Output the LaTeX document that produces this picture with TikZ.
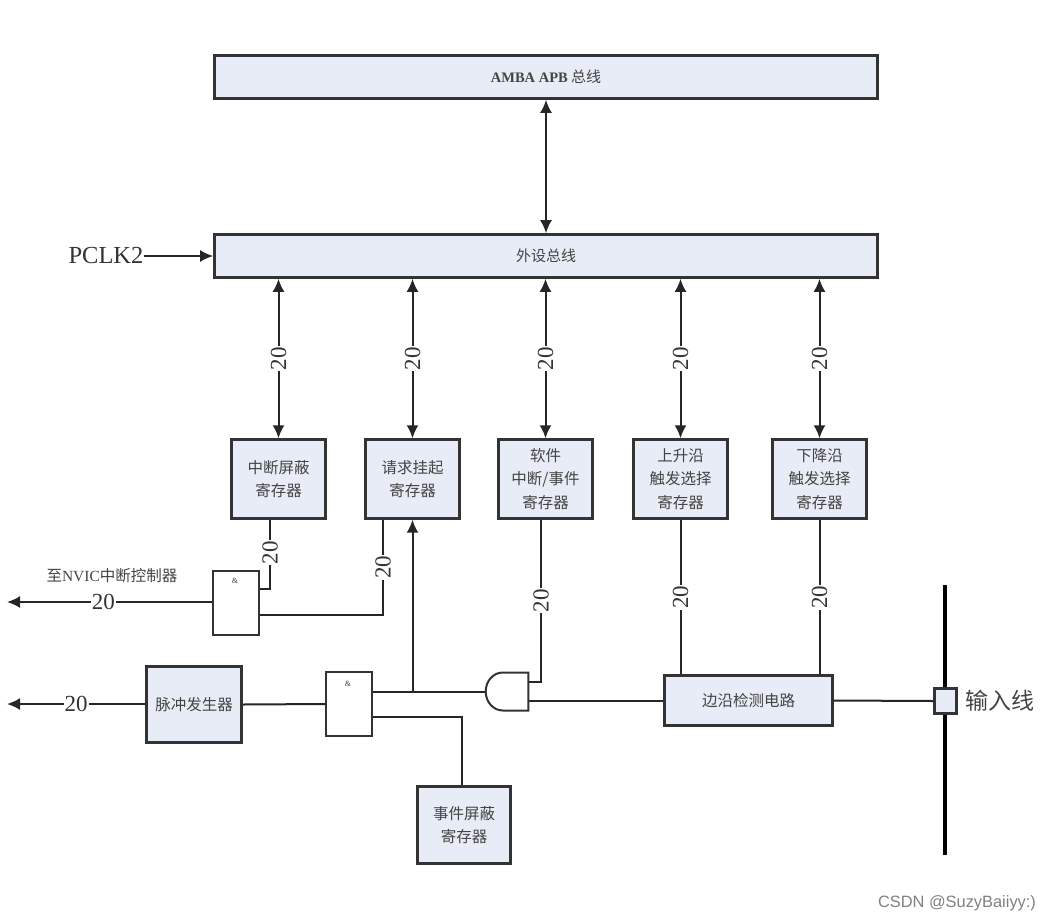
\documentclass[tikz,border=0pt]{standalone}
\usepackage{fontspec}
\setmainfont{Liberation Serif}
\newfontfamily\cjk{Noto Sans CJK SC}
\usetikzlibrary{positioning,arrows.meta,shapes.gates.logic.US}
\definecolor{boxfill}{HTML}{E8ECF6}
\definecolor{boxline}{HTML}{333333}
\definecolor{boxtext}{HTML}{444444}

\begin{document}
\begin{tikzpicture}[x=1pt,y=-1pt,node distance=40pt]
  \tikzset{
    busbox/.style={draw=boxline, line width=2.4pt, fill=boxfill, minimum height=43.2pt, minimum width=663.2pt, text=boxtext, font=\cjk\fontsize{15}{17}\selectfont},
    regbox/.style={draw=boxline, line width=2.4pt, fill=boxfill, minimum height=79pt, minimum width=94pt, align=center, text=boxtext, font=\cjk\fontsize{15.5}{23.5}\selectfont, inner sep=0pt},
    gatebox/.style={draw=boxline, line width=2pt, fill=white, minimum height=63.5pt, minimum width=45.5pt},
    amptext/.style={text=boxtext, font=\fontsize{8}{8}\selectfont, inner sep=0pt},
    count/.style={fill=white, inner sep=1pt, font=\fontsize{23}{23}\selectfont, text=boxline},
    vcount/.style={count, rotate=90},
    wire/.style={draw=black!85, line width=2pt},
    arrow/.style={wire, -{Latex[length=13pt,width=12pt]}},
    dblarrow/.style={wire, {Latex[length=13pt,width=12pt]}-{Latex[length=13pt,width=12pt]}}
  }
  \useasboundingbox (0,0) rectangle (1050,922);

  \node[busbox] (apbbus) at (546,77) {{\fontspec{Liberation Serif}\bfseries\fontsize{14.5}{17}\selectfont AMBA APB} 总线};
  \node[busbox] (periphbus) at (546,256) {外设总线};
  \node[font=\fontsize{24.5}{25}\selectfont, text=boxline, inner sep=0pt] (pclk) at (106,256) {PCLK2};

  \node[regbox] (maskreg) at (278.5,479) {中断屏蔽\\寄存器};
  \node[regbox, right=37.6pt of maskreg] (pendreg) {请求挂起\\寄存器};
  \node[regbox, right=36.6pt of pendreg] (softreg) {软件\\中断/事件\\寄存器};
  \node[regbox, right=38.6pt of softreg] (risereg) {上升沿\\触发选择\\寄存器};
  \node[regbox, right=42.6pt of risereg] (fallreg) {下降沿\\触发选择\\寄存器};

  \node[gatebox] (nvicgate) at (236,603) {};
  \node[amptext] (nvicamp) at (235,581) {\&};
  \node[gatebox] (eventgate) at (349,704) {};
  \node[amptext] (eventamp) at (348,684) {\&};
  \node[and gate US, draw=boxline, line width=2pt, rotate=180, xscale=.9, logic gate inputs=nn, minimum height=38pt, minimum width=38pt, inner sep=0pt] (andgate) at (508.5,691.5) {};

  \node[regbox, minimum height=50pt, minimum width=168pt] (edgebox) at (748.5,700.5) {边沿检测电路};
  \node[regbox, minimum height=76pt, minimum width=95pt] (pulsebox) at (194,704.5) {脉冲发生器};
  \node[regbox, minimum height=77pt, minimum width=93pt] (eventreg) at (464,825) {事件屏蔽\\寄存器};

  \coordinate (linetop) at (945,585);
  \coordinate (linebot) at (945,855);
  \draw[draw=black, line width=4pt] (linetop) -- (linebot);
  \node[regbox, minimum height=25pt, minimum width=22pt] (inputbox) at (945.5,701) {};
  \node[right=8pt of inputbox, text=boxtext, inner sep=0pt, font=\cjk\fontsize{23}{23}\selectfont] (inputlabel) {输入线};

  \node[text=boxtext, inner sep=0pt, font=\fontsize{15.5}{17}\selectfont] (nvictext) at (112,576) {{\cjk 至}NVIC{\cjk 中断控制器}};
  \node[text=gray, inner sep=0pt, font=\fontspec{Liberation Sans}\fontsize{16.4}{18}\selectfont] (mark) at (957,903) {CSDN @SuzyBaiiyy:)};

  \coordinate (nvicout) at (7,602);
  \coordinate (pulseout) at (7,704);
  \coordinate (maskin) at (270,589);
  \coordinate (pendin) at (383,615);
  \coordinate (softin) at (541,682);
  \coordinate (eventout) at (372,692);
  \coordinate (eventin) at (462,717);

  \draw[dblarrow] (apbbus) -- (periphbus);
  \draw[arrow] (pclk) -- (periphbus);

  \draw[dblarrow] (maskreg.north) -- node[vcount] (n1) {20} (maskreg.north |- periphbus.south);
  \draw[dblarrow] (pendreg.north) -- node[vcount] (n2) {20} (pendreg.north |- periphbus.south);
  \draw[dblarrow] (softreg.north) -- node[vcount] (n3) {20} (softreg.north |- periphbus.south);
  \draw[dblarrow] (risereg.north) -- node[vcount] (n4) {20} (risereg.north |- periphbus.south);
  \draw[dblarrow] (fallreg.north) -- node[vcount] (n5) {20} (fallreg.north |- periphbus.south);

  \draw[wire] (maskreg.south -| maskin) -- node[vcount, pos=.48] (n6) {20} (maskin) -- (maskin -| nvicgate.east);
  \draw[wire] (pendreg.south -| pendin) -- node[vcount] (n7) {20} (pendin) -- (pendin -| nvicgate.east);
  \draw[wire] (softreg.south -| softin) -- node[vcount] (n8) {20} (softin) -- (softin -| andgate.west);
  \draw[wire] (risereg.south) -- node[vcount] (n9) {20} (risereg.south |- edgebox.north);
  \draw[wire] (fallreg.south) -- node[vcount] (n10) {20} (fallreg.south |- edgebox.north);

  \draw[arrow] (nvicgate.west |- nvicout) -- node[count, pos=.53] (n11) {20} (nvicout);
  \draw[arrow] (pulsebox.west |- pulseout) -- node[count] (n12) {20} (pulseout);

  \draw[wire] (pulsebox.east) -- (eventgate.west);
  \draw[wire] (eventgate.east |- eventout) -- (eventout -| andgate.east);
  \draw[arrow] (pendreg.south |- eventout) -- (pendreg.south);
  \draw[wire] (eventgate.east |- eventin) -- (eventin) -- (eventin |- eventreg.north);
  \draw[wire] (edgebox.west) -- (edgebox.west -| andgate.west);
  \draw[wire] (edgebox.east) -- (inputbox.west);
\end{tikzpicture}
\end{document}
